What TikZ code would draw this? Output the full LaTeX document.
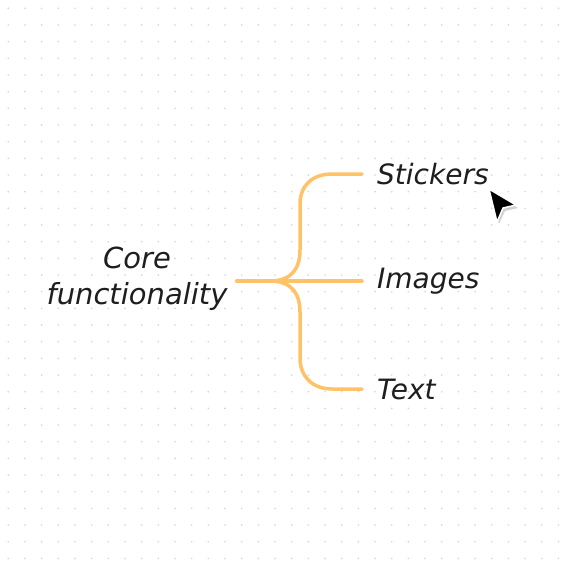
\documentclass[tikz,border=0pt]{standalone}
\usepackage{fontspec}
\setmainfont{DejaVu Sans}
\definecolor{branch}{HTML}{FFC266}
\definecolor{griddot}{HTML}{D6D6D6}
\definecolor{ink}{HTML}{1E1E1E}
\tikzset{
    leaf/.style={anchor=west,inner xsep=15pt,inner ysep=0pt,text=ink,font=\fontsize{28}{30}\selectfont\itshape},
    link/.style={branch,line width=3.5pt,line cap=round}
}
\begin{document}
\begin{tikzpicture}[x=1pt,y=-1pt]
        \useasboundingbox (0,0) rectangle (562,562);
        \fill[white] (0,0) rectangle (562,562);
        %% dot grid
        \foreach \i in {0,...,33} {
            \foreach \j in {0,...,33} {
                \fill[griddot] (8.3+16.67*\i,8.3+16.67*\j) circle (0.9);
            }
        }
        %% nodes
        \node[align=center,text=ink,inner sep=0pt,font=\fontsize{29}{36}\selectfont\itshape] (core) at (137,279) {Core\\functionality};
        \coordinate (J) at (270,281);
        \node[leaf] (stickers) at (362,174) {Stickers};
        \node[leaf] (images) at (362,281) {Images};
        \node[leaf] (text) at (362,389) {Text};
        %% branches
        \draw[link,shorten <=9pt] (core.east |- images.west) -- (images.west);
        \draw[link] (J) .. controls (292,281) and (300,268) .. (300,250) -- (300,204)
            .. controls (300,186) and (312,174) .. (332,174) -- (stickers.west);
        \draw[link] (J) .. controls (292,281) and (300,294) .. (300,312) -- (300,358)
            .. controls (300,376) and (312,389) .. (332,389) -- (text.west);
        %% pointer
        \fill[black!35,opacity=0.5] (492,192) -- (518,208) -- (505,211) -- (499,224) -- cycle;
        \draw[white,line width=1.5pt,line join=round,fill=black] (489,189) -- (516,205) -- (503,208) -- (497,222) -- cycle;
    \end{tikzpicture}
\end{document}
